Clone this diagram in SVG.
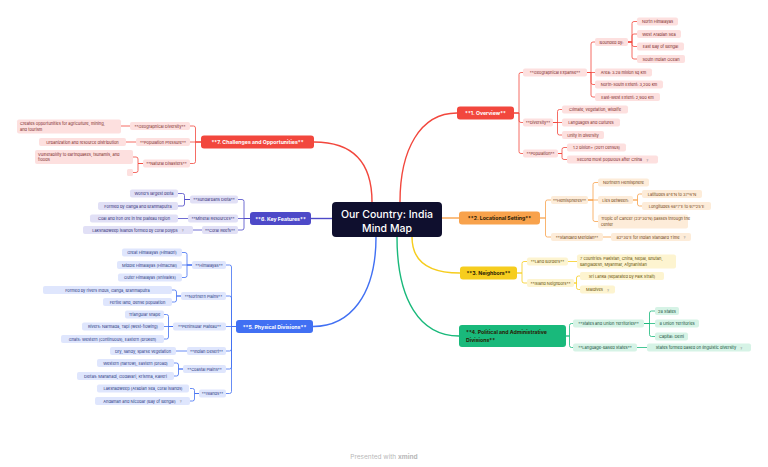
<svg xmlns="http://www.w3.org/2000/svg" width="768" height="467" viewBox="0 0 768 467">
<style>
text{font-family:Inter,"Liberation Sans",sans-serif}
.lf{font-size:4px;text-anchor:middle;dominant-baseline:central}
.ll{font-size:4px;text-anchor:start}
.mn{font-size:5.2px;font-weight:700;text-anchor:middle;dominant-baseline:central}
.ttl{font-size:10.5px;font-weight:500;fill:#ffffff;text-anchor:middle;dominant-baseline:central}
.ic{fill:#8a8a8a}
.rM{fill:#f2473d}.rL{fill:#fde0df}.rT{fill:#7a2626}.rS{stroke:#f2473d}
.oM{fill:#f8a24c}.oL{fill:#fdecd9}.oT{fill:#6e3d10}.oS{stroke:#f8a24c}
.yM{fill:#f6cd1e}.yL{fill:#fdf4d0}.yT{fill:#5e4b00}.yS{stroke:#f6cd1e}
.gM{fill:#19b97b}.gL{fill:#d6f3e6}.gT{fill:#0d4a33}.gS{stroke:#19b97b}
.bM{fill:#4170f3}.bL{fill:#dfe6fd}.bT{fill:#1f347c}.bS{stroke:#4170f3}
.iM{fill:#4d49c8}.iL{fill:#e1e0f6}.iT{fill:#2b2871}.iS{stroke:#4d49c8}
.wT{fill:#ffffff}.dT{fill:#2a1a05}
#connectors path{fill:none}
.c1{stroke-width:1.4}
.c2{stroke-width:0.8}
</style>
<rect width="768" height="467" fill="#ffffff"/>
<g id="connectors">
<path class="c1 rS" d="M400 202 C400 150 420 113 457 113"/>
<path class="c1 rS" d="M372 202 C372 160 350 142 314 142"/>
<path class="c1 oS" d="M442 218 H459"/>
<path class="c1 yS" d="M412 237 C412 262 430 273 460 273"/>
<path class="c1 gS" d="M397 237 C397 300 420 336 459 336"/>
<path class="c1 bS" d="M376 237 C376 295 350 326.5 313 326.5"/>
<path class="c1 iS" d="M332 218.5 H311"/>
<g class="c2 rS">
<path d="M514 113 H519 V74.5 Q519 72.5 521 72.5 H523"/>
<path d="M514 113 H519 V120.5 Q519 122.5 521 122.5 H523"/>
<path d="M514 113 H519 V151.5 Q519 153.5 521 153.5 H523"/>
<path d="M587 72.5 H591 V44 Q591 42 593 42 H595"/>
<path d="M587 72.5 H595"/>
<path d="M587 72.5 H591 V82.5 Q591 84.5 593 84.5 H595"/>
<path d="M587 72.5 H591 V95 Q591 97 593 97 H595"/>
<path d="M628 42 H632 V23.5 Q632 21.5 634 21.5 H637"/>
<path d="M628 42 H632 V36 Q632 34 634 34 H637"/>
<path d="M628 42 H632 V44.5 Q632 46.5 634 46.5 H637"/>
<path d="M628 42 H632 V57 Q632 59 634 59 H637"/>
<path d="M553 122.5 H557.5 V111.5 Q557.5 109.5 559.5 109.5 H562"/>
<path d="M553 122.5 H562"/>
<path d="M553 122.5 H557.5 V133 Q557.5 135 559.5 135 H562"/>
<path d="M558 153.5 H562 V149.5 Q562 147.5 564 147.5 H567"/>
<path d="M558 153.5 H562 V157.5 Q562 159.5 564 159.5 H567"/>
<path d="M201 142 H195.5 V128 Q195.5 126 193.5 126 H190"/>
<path d="M201 142 H190"/>
<path d="M201 142 H195.5 V161.5 Q195.5 163.5 193.5 163.5 H190"/>
<path d="M130 126 H121"/>
<path d="M136 142 H126"/>
<path d="M143 163.5 H138 V159 Q138 157 136 157 H133"/>
<path d="M143 163.5 H138 V170.5 Q138 172.5 136 172.5 H133"/>
</g>
<g class="c2 oS">
<path d="M540 218 H545.5 V202 Q545.5 200 547.5 200 H551"/>
<path d="M540 218 H545.5 V235 Q545.5 237 547.5 237 H551"/>
<path d="M588 200 H593 V184.5 Q593 182.5 595 182.5 H598"/>
<path d="M588 200 H598"/>
<path d="M588 200 H593 V219.5 Q593 221.5 595 221.5 H598"/>
<path d="M633 200 H637.5 V196 Q637.5 194 639.5 194 H642"/>
<path d="M633 200 H637.5 V204 Q637.5 206 639.5 206 H642"/>
<path d="M603 237 H611"/>
</g>
<g class="c2 yS">
<path d="M517 273 H522 V263.5 Q522 261.5 524 261.5 H527"/>
<path d="M517 273 H522 V281 Q522 283 524 283 H527"/>
<path d="M568 261.5 H577"/>
<path d="M574 283 H576.5 V278 Q576.5 276 578.5 276 H580"/>
<path d="M574 283 H576.5 V287.5 Q576.5 289.5 578.5 289.5 H580"/>
</g>
<g class="c2 gS">
<path d="M566 336 H569.5 V325.5 Q569.5 323.5 571.5 323.5 H573"/>
<path d="M566 336 H569.5 V345.5 Q569.5 347.5 571.5 347.5 H573"/>
<path d="M644 323.5 H649.5 V313 Q649.5 311 651.5 311 H655"/>
<path d="M644 323.5 H655"/>
<path d="M644 323.5 H649.5 V334.5 Q649.5 336.5 651.5 336.5 H655"/>
<path d="M637 347.5 H647"/>
</g>
<g class="c2 iS">
<path d="M250 218.5 H244 V201.5 Q244 199.5 242 199.5 H238"/>
<path d="M250 218.5 H238"/>
<path d="M250 218.5 H244 V228 Q244 230 242 230 H238"/>
<path d="M190 199.5 H184.5 V195.5 Q184.5 193.5 182.5 193.5 H178"/>
<path d="M190 199.5 H184.5 V204 Q184.5 206 182.5 206 H178"/>
<path d="M188 218.5 H178"/>
<path d="M202 230 H193"/>
</g>
<g class="c2 bS">
<path d="M236 326.5 H231.5 V267 Q231.5 265 229.5 265 H226"/>
<path d="M236 326.5 H231.5 V298 Q231.5 296 229.5 296 H226"/>
<path d="M236 326.5 H226"/>
<path d="M236 326.5 H231.5 V349 Q231.5 351 229.5 351 H226"/>
<path d="M236 326.5 H231.5 V367 Q231.5 369 229.5 369 H226"/>
<path d="M236 326.5 H231.5 V391.5 Q231.5 393.5 229.5 393.5 H226"/>
<path d="M192 265 H187 V254.5 Q187 252.5 185 252.5 H182"/>
<path d="M192 265 H182"/>
<path d="M192 265 H187 V275.5 Q187 277.5 185 277.5 H182"/>
<path d="M181 296 H176.5 V292 Q176.5 290 174.5 290 H172"/>
<path d="M181 296 H176.5 V300 Q176.5 302 174.5 302 H172"/>
<path d="M173 326.5 H168.5 V316.5 Q168.5 314.5 166.5 314.5 H164"/>
<path d="M173 326.5 H164"/>
<path d="M173 326.5 H168.5 V337 Q168.5 339 166.5 339 H164"/>
<path d="M187 351 H176"/>
<path d="M183 369 H178.5 V365 Q178.5 363 176.5 363 H174"/>
<path d="M183 369 H178.5 V374 Q178.5 376 176.5 376 H174"/>
<path d="M199 393.5 H194.5 V390.5 Q194.5 388.5 192.5 388.5 H190"/>
<path d="M199 393.5 H194.5 V399 Q194.5 401 192.5 401 H190"/>
</g>
</g>

<g id="center"><rect x="332" y="202" width="110" height="35" rx="4" fill="#0f0f2e"/><text class="ttl" x="387" y="214.5">Our Country: India</text><text class="ttl" x="387" y="228.5">Mind Map</text></g>

<g id="n1"><rect class="rM" x="457" y="106.5" width="57" height="13" rx="3"/><text class="mn wT" x="485.5" y="113">**1. Overview**</text></g>
<g id="n1-geo"><rect class="rL" x="523" y="68.5" width="64" height="8" rx="2"/><text class="lf rT" x="555" y="72.5">**Geographical Expanse**</text></g>
<g id="n1-bounded"><rect class="rL" x="595" y="38" width="33" height="8" rx="2"/><text class="lf rT" x="611.5" y="42">Bounded by:</text></g>
<g id="n1-nh"><rect class="rL" x="637" y="17.5" width="41" height="8" rx="2"/><text class="lf rT" x="657.5" y="21.5">North Himalayas</text></g>
<g id="n1-wa"><rect class="rL" x="637" y="30" width="44" height="8" rx="2"/><text class="lf rT" x="659" y="34">West Arabian Sea</text></g>
<g id="n1-eb"><rect class="rL" x="637" y="42.5" width="47" height="8" rx="2"/><text class="lf rT" x="660.5" y="46.5">East Bay of Bengal</text></g>
<g id="n1-si"><rect class="rL" x="637" y="55" width="48" height="8" rx="2"/><text class="lf rT" x="661" y="59">South Indian Ocean</text></g>
<g id="n1-area"><rect class="rL" x="595" y="68.5" width="57" height="8" rx="2"/><text class="lf rT" x="623.5" y="72.5">Area: 3.28 million sq km</text></g>
<g id="n1-ns"><rect class="rL" x="595" y="80.5" width="68" height="8" rx="2"/><text class="lf rT" x="629" y="84.5">North-South Extent: 3,200 km</text></g>
<g id="n1-ew"><rect class="rL" x="595" y="93" width="65" height="8" rx="2"/><text class="lf rT" x="627.5" y="97">East-West Extent: 2,900 km</text></g>
<g id="n1-div"><rect class="rL" x="523" y="118.5" width="30" height="8" rx="2"/><text class="lf rT" x="538" y="122.5">**Diversity**</text></g>
<g id="n1-clim"><rect class="rL" x="562" y="105.5" width="66" height="8" rx="2"/><text class="lf rT" x="595" y="109.5">Climate, vegetation, wildlife</text></g>
<g id="n1-lang"><rect class="rL" x="562" y="118.5" width="58" height="8" rx="2"/><text class="lf rT" x="591" y="122.5">Languages and cultures</text></g>
<g id="n1-unity"><rect class="rL" x="562" y="131" width="42" height="8" rx="2"/><text class="lf rT" x="583" y="135">Unity in diversity</text></g>
<g id="n1-pop"><rect class="rL" x="523" y="149.5" width="35" height="8" rx="2"/><text class="lf rT" x="540.5" y="153.5">**Population**</text></g>
<g id="n1-bil"><rect class="rL" x="567" y="143.5" width="59" height="8" rx="2"/><text class="lf rT" x="596.5" y="147.5">1.2 billion+ (2011 census)</text></g>
<g id="n1-second"><rect class="rL" x="567" y="155.5" width="91" height="8" rx="2"/><text class="lf rT" x="612.5" y="159.5">Second most populous after China<tspan class="ic" dx="4">?</tspan></text></g>

<g id="n2"><rect class="oM" x="459" y="211.5" width="81" height="13" rx="3"/><text class="mn dT" x="499.5" y="218">**2. Locational Setting**</text></g>
<g id="n2-hemi"><rect class="oL" x="551" y="196" width="37" height="8" rx="2"/><text class="lf oT" x="569.5" y="200">**Hemispheres**</text></g>
<g id="n2-nhem"><rect class="oL" x="598" y="178.5" width="51" height="8" rx="2"/><text class="lf oT" x="623.5" y="182.5">Northern Hemisphere</text></g>
<g id="n2-lies"><rect class="oL" x="598" y="196" width="35" height="8" rx="2"/><text class="lf oT" x="615.5" y="200">Lies between:</text></g>
<g id="n2-lat"><rect class="oL" x="642" y="190" width="60" height="8" rx="2"/><text class="lf oT" x="672" y="194">Latitudes 8°4'N to 37°6'N</text></g>
<g id="n2-lon"><rect class="oL" x="642" y="202" width="69" height="8" rx="2"/><text class="lf oT" x="676.5" y="206">Longitudes 68°7'E to 97°25'E</text></g>
<g id="n2-tropic"><rect class="oL" x="598" y="214.5" width="90" height="14" rx="2"/><text class="ll oT" x="601" y="220">Tropic of Cancer (23°30'N) passes through the<tspan x="601" y="225.5">center</tspan></text></g>
<g id="n2-stdm"><rect class="oL" x="551" y="233" width="52" height="8" rx="2"/><text class="lf oT" x="577" y="237">**Standard Meridian**</text></g>
<g id="n2-ist"><rect class="oL" x="611" y="233" width="80" height="8" rx="2"/><text class="lf oT" x="651" y="237">82°30'E for Indian Standard Time<tspan class="ic" dx="4">?</tspan></text></g>

<g id="n3"><rect class="yM" x="460" y="266.5" width="57" height="13" rx="3"/><text class="mn dT" x="488.5" y="273">**3. Neighbors**</text></g>
<g id="n3-land"><rect class="yL" x="527" y="257.5" width="41" height="8" rx="2"/><text class="lf yT" x="547.5" y="261.5">**Land Borders**</text></g>
<g id="n3-seven"><rect class="yL" x="577" y="254.5" width="99" height="14" rx="2"/><text class="ll yT" x="580" y="260">7 countries: Pakistan, China, Nepal, Bhutan,<tspan x="580" y="265.5">Bangladesh, Myanmar, Afghanistan</tspan></text></g>
<g id="n3-island"><rect class="yL" x="527" y="279" width="47" height="8" rx="2"/><text class="lf yT" x="550.5" y="283">**Island Neighbors**</text></g>
<g id="n3-sri"><rect class="yL" x="580" y="272" width="84" height="8" rx="2"/><text class="lf yT" x="622" y="276">Sri Lanka (separated by Palk Strait)</text></g>
<g id="n3-mald"><rect class="yL" x="580" y="285.5" width="35" height="8" rx="2"/><text class="lf yT" x="597.5" y="289.5">Maldives<tspan class="ic" dx="4">?</tspan></text></g>

<g id="n4"><rect class="gM" x="459" y="325" width="107" height="22" rx="3"/><text x="466" y="334" font-size="5.2" font-weight="700" class="dT">**4. Political and Administrative<tspan x="466" y="341.5">Divisions**</tspan></text></g>
<g id="n4-sut"><rect class="gL" x="573" y="319.5" width="71" height="8" rx="2"/><text class="lf gT" x="608.5" y="323.5">**States and Union Territories**</text></g>
<g id="n4-s28"><rect class="gL" x="655" y="307" width="24" height="8" rx="2"/><text class="lf gT" x="667" y="311">28 States</text></g>
<g id="n4-ut8"><rect class="gL" x="655" y="319.5" width="44" height="8" rx="2"/><text class="lf gT" x="677" y="323.5">8 Union Territories</text></g>
<g id="n4-cap"><rect class="gL" x="655" y="332.5" width="33" height="8" rx="2"/><text class="lf gT" x="671.5" y="336.5">Capital: Delhi</text></g>
<g id="n4-lbs"><rect class="gL" x="573" y="343.5" width="64" height="8" rx="2"/><text class="lf gT" x="605" y="347.5">**Language-Based States**</text></g>
<g id="n4-ling"><rect class="gL" x="647" y="343.5" width="104" height="8" rx="2"/><text class="lf gT" x="699" y="347.5">States formed based on linguistic diversity<tspan class="ic" dx="4">?</tspan></text></g>

<g id="n7"><rect class="rM" x="201" y="135.5" width="113" height="13" rx="3"/><text class="mn wT" x="257.5" y="142">**7. Challenges and Opportunities**</text></g>
<g id="n7-gd"><rect class="rL" x="130" y="122" width="60" height="8" rx="2"/><text class="lf rT" x="160" y="126">**Geographical Diversity**</text></g>
<g id="n7-creates"><rect class="rL" x="17" y="119.5" width="104" height="14" rx="2"/><text class="ll rT" x="20" y="125">Creates opportunities for agriculture, mining,<tspan x="20" y="130.5">and tourism</tspan></text></g>
<g id="n7-pp"><rect class="rL" x="136" y="138" width="54" height="8" rx="2"/><text class="lf rT" x="163" y="142">**Population Pressure**</text></g>
<g id="n7-urb"><rect class="rL" x="39" y="138" width="87" height="8" rx="2"/><text class="lf rT" x="82.5" y="142">Urbanization and resource distribution</text></g>
<g id="n7-nd"><rect class="rL" x="143" y="159.5" width="47" height="8" rx="2"/><text class="lf rT" x="166.5" y="163.5">**Natural Disasters**</text></g>
<g id="n7-vul"><rect class="rL" x="35" y="150" width="98" height="14" rx="2"/><text class="ll rT" x="38" y="155.5">Vulnerability to earthquakes, tsunamis, and<tspan x="38" y="161">floods</tspan></text></g>
<g id="n7-small"><rect class="rL" x="127" y="169" width="6" height="7" rx="1.5"/></g>

<g id="n6"><rect class="iM" x="250" y="212" width="61" height="13" rx="3"/><text class="mn wT" x="280.5" y="218.5">**6. Key Features**</text></g>
<g id="n6-sund"><rect class="iL" x="190" y="195.5" width="48" height="8" rx="2"/><text class="lf iT" x="214" y="199.5">**Sundarbans Delta**</text></g>
<g id="n6-wld"><rect class="iL" x="130" y="189.5" width="48" height="8" rx="2"/><text class="lf iT" x="154" y="193.5">World's largest delta</text></g>
<g id="n6-fgb"><rect class="iL" x="98" y="202" width="80" height="8" rx="2"/><text class="lf iT" x="138" y="206">Formed by Ganga and Brahmaputra</text></g>
<g id="n6-min"><rect class="iL" x="188" y="214.5" width="50" height="8" rx="2"/><text class="lf iT" x="213" y="218.5">**Mineral Resources**</text></g>
<g id="n6-coal"><rect class="iL" x="90" y="214.5" width="88" height="8" rx="2"/><text class="lf iT" x="134" y="218.5">Coal and iron ore in the plateau region</text></g>
<g id="n6-coral"><rect class="iL" x="202" y="226" width="36" height="8" rx="2"/><text class="lf iT" x="220" y="230">**Coral Reefs**</text></g>
<g id="n6-laks"><rect class="iL" x="83" y="226" width="110" height="8" rx="2"/><text class="lf iT" x="138" y="230">Lakshadweep islands formed by coral polyps<tspan class="ic" dx="4">?</tspan></text></g>

<g id="n5"><rect class="bM" x="236" y="320" width="77" height="13" rx="3"/><text class="mn wT" x="274.5" y="326.5">**5. Physical Divisions**</text></g>
<g id="n5-him"><rect class="bL" x="192" y="261" width="34" height="8" rx="2"/><text class="lf bT" x="209" y="265">**Himalayas**</text></g>
<g id="n5-gh"><rect class="bL" x="122" y="248.5" width="60" height="8" rx="2"/><text class="lf bT" x="152" y="252.5">Great Himalayas (Himadri)</text></g>
<g id="n5-mh"><rect class="bL" x="117" y="261" width="65" height="8" rx="2"/><text class="lf bT" x="149.5" y="265">Middle Himalayas (Himachal)</text></g>
<g id="n5-oh"><rect class="bL" x="118" y="273.5" width="64" height="8" rx="2"/><text class="lf bT" x="150" y="277.5">Outer Himalayas (Shivaliks)</text></g>
<g id="n5-np"><rect class="bL" x="181" y="292" width="45" height="8" rx="2"/><text class="lf bT" x="203.5" y="296">**Northern Plains**</text></g>
<g id="n5-fr"><rect class="bL" x="43" y="286" width="129" height="8" rx="2"/><text class="lf bT" x="107.5" y="290">Formed by rivers Indus, Ganga, Brahmaputra</text></g>
<g id="n5-fl"><rect class="bL" x="103" y="298" width="69" height="8" rx="2"/><text class="lf bT" x="137.5" y="302">Fertile land, dense population</text></g>
<g id="n5-pen"><rect class="bL" x="173" y="322.5" width="53" height="8" rx="2"/><text class="lf bT" x="199.5" y="326.5">**Peninsular Plateau**</text></g>
<g id="n5-tri"><rect class="bL" x="125" y="310.5" width="39" height="8" rx="2"/><text class="lf bT" x="144.5" y="314.5">Triangular shape</text></g>
<g id="n5-riv"><rect class="bL" x="82" y="322.5" width="82" height="8" rx="2"/><text class="lf bT" x="123" y="326.5">Rivers: Narmada, Tapi (west-flowing)</text></g>
<g id="n5-ghats"><rect class="bL" x="61" y="335" width="103" height="8" rx="2"/><text class="lf bT" x="112.5" y="339">Ghats: Western (continuous), Eastern (broken)</text></g>
<g id="n5-des"><rect class="bL" x="187" y="347" width="39" height="8" rx="2"/><text class="lf bT" x="206.5" y="351">**Indian Desert**</text></g>
<g id="n5-dry"><rect class="bL" x="110" y="347" width="66" height="8" rx="2"/><text class="lf bT" x="143" y="351">Dry, sandy, sparse vegetation</text></g>
<g id="n5-cp"><rect class="bL" x="183" y="365" width="43" height="8" rx="2"/><text class="lf bT" x="204.5" y="369">**Coastal Plains**</text></g>
<g id="n5-wn"><rect class="bL" x="97" y="359" width="77" height="8" rx="2"/><text class="lf bT" x="135.5" y="363">Western (narrow), Eastern (broad)</text></g>
<g id="n5-del"><rect class="bL" x="77" y="372" width="97" height="8" rx="2"/><text class="lf bT" x="125.5" y="376">Deltas: Mahanadi, Godavari, Krishna, Kaveri</text></g>
<g id="n5-isl"><rect class="bL" x="199" y="389.5" width="27" height="8" rx="2"/><text class="lf bT" x="212.5" y="393.5">**Islands**</text></g>
<g id="n5-lk"><rect class="bL" x="97" y="384.5" width="92" height="8" rx="2"/><text class="lf bT" x="143" y="388.5">Lakshadweep (Arabian Sea, coral islands)</text></g>
<g id="n5-an"><rect class="bL" x="95" y="397" width="95" height="8" rx="2"/><text class="lf bT" x="142.5" y="401">Andaman and Nicobar (Bay of Bengal)<tspan class="ic" dx="4">?</tspan></text></g>

<g id="footer"><text x="384" y="459" font-size="6.5" fill="#b8b8b8" text-anchor="middle">Presented with <tspan font-weight="700">xmind</tspan></text></g>
</svg>
